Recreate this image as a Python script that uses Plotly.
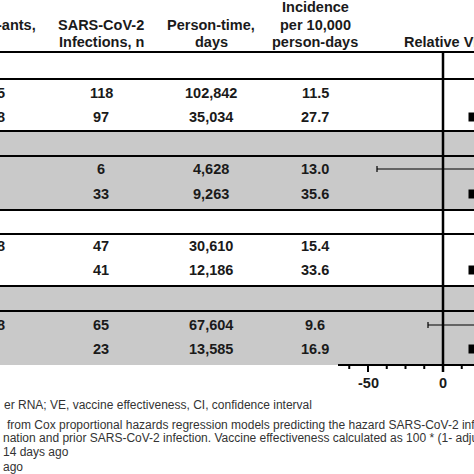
import plotly.graph_objects as go

infections = ["118", "97", "6", "33", "47", "41", "65", "23"]
person_time = ["102,842", "35,034", "4,628", "9,263", "30,610", "12,186", "67,604", "13,585"]
incidence = ["11.5", "27.7", "13.0", "35.6", "15.4", "33.6", "9.6", "16.9"]
participants_tail = ["5", "8", "", "", "8", "", "8", ""]
row_y = [93, 117, 169, 194, 246, 270, 325, 349]

# forest plot values (VE %), only partly visible in the crop
ve_rows = [117, 169, 194, 270, 325, 349]
ve_point = [20, 30, 20, 20, 26, 20]
ve_lower = [20, -44, 20, 20, -10, 20]
ticks_major = [-50, 0]
ticks_minor = [-62.5, -37.5, -25, -12.5, 12.5]

footnotes = [
    "er RNA; VE, vaccine effectiveness, CI, confidence interval",
    "from Cox proportional hazards regression models predicting the hazard SARS-CoV-2 infection",
    "nation and prior SARS-CoV-2 infection. Vaccine effectiveness calculated as 100 * (1- adjusted",
    "14 days ago",
    "ago",
]
foot_y = [405, 425, 438, 452, 467]
foot_x = [2, 5, 1, 1, 1]

W = 474
x0_px, scale = 443, 1.5
xr = [(0 - x0_px) / scale, (W - x0_px) / scale]

fig = go.Figure()
shapes = []
for y0, y1 in [(131, 210), (286, 365)]:
    shapes.append(dict(type="rect", xref="paper", yref="y", x0=0, x1=1, y0=y0, y1=y1,
                       fillcolor="#c9c9c9", line_width=0, layer="below"))
for y in [52, 79, 131, 156, 210, 234, 286, 311]:
    shapes.append(dict(type="line", xref="paper", yref="y", x0=0, x1=1, y0=y, y1=y,
                       line=dict(color="black", width=2)))
# zero line and axis
shapes.append(dict(type="line", x0=0, x1=0, y0=53, y1=372, line=dict(color="black", width=2.5)))
shapes.append(dict(type="line", x0=(338 - x0_px) / scale, x1=xr[1], y0=365, y1=365,
                   line=dict(color="black", width=2)))
for t in ticks_major:
    shapes.append(dict(type="line", x0=t, x1=t, y0=365, y1=372, line=dict(color="black", width=2)))
for t in ticks_minor:
    shapes.append(dict(type="line", x0=t, x1=t, y0=365, y1=369, line=dict(color="black", width=2)))

fig.add_trace(go.Scatter(
    x=ve_point, y=ve_rows, mode="markers",
    marker=dict(symbol="square", size=9, color="black"),
    error_x=dict(type="data", symmetric=False, array=[0] * len(ve_point),
                 arrayminus=[p - l for p, l in zip(ve_point, ve_lower)],
                 color="black", thickness=1.2, width=3),
    showlegend=False, cliponaxis=True,
))

ann = []
bold = dict(family="Liberation Sans", size=14.5, color="#1a1a1a")
heads = [
    (38, 25, "-ants,", "right"), (101, 25, "SARS-CoV-2", "center"), (101, 42, "Infections, n", "center"),
    (211, 25, "Person-time,", "center"), (211, 42, "days", "center"),
    (315, 7, "Incidence", "center"), (315, 25, "per 10,000", "center"), (315, 42, "person-days", "center"),
    (402, 42, "Relative VE (95% CI)", "left"),
]
for x, y, t, a in heads:
    ann.append(dict(xref="paper", x=x / W, y=y, text="<b>%s</b>" % t, xanchor=a, font=bold))
for i, y in enumerate(row_y):
    for x, t in [(101, infections[i]), (211, person_time[i]), (315, incidence[i])]:
        ann.append(dict(xref="paper", x=x / W, y=y, text="<b>%s</b>" % t, xanchor="center", font=bold))
    if participants_tail[i]:
        ann.append(dict(xref="paper", x=7 / W, y=y, text="<b>%s</b>" % participants_tail[i],
                        xanchor="right", font=bold))
for t in ticks_major:
    ann.append(dict(x=t, y=383, text="<b>%d</b>" % t, xanchor="center", font=bold))
for x, y, t in zip(foot_x, foot_y, footnotes):
    ann.append(dict(xref="paper", x=x / W, y=y, text=t, xanchor="left",
                    font=dict(family="Liberation Sans", size=12, color="#333")))
for a in ann:
    a.setdefault("yref", "y")
    a.setdefault("showarrow", False)
    a["yanchor"] = "middle"

fig.update_layout(
    width=W, height=W, margin=dict(l=0, r=0, t=0, b=0),
    paper_bgcolor="white", plot_bgcolor="white",
    xaxis=dict(range=xr, visible=False, fixedrange=True),
    yaxis=dict(range=[W, 0], visible=False, fixedrange=True),
    shapes=shapes, annotations=ann,
)
fig.write_html("out.html", config={"displayModeBar": False},
               post_script="document.body.style.margin='0';document.body.style.overflow='hidden';")
